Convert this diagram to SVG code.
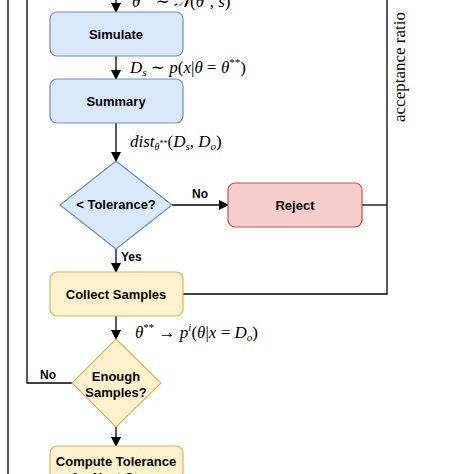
<svg xmlns="http://www.w3.org/2000/svg" width="474" height="474" viewBox="0 0 474 474">
<defs>
<marker id="ah" markerWidth="10" markerHeight="10" refX="9" refY="5" orient="auto" markerUnits="userSpaceOnUse">
<path d="M0,0 L10,5 L0,10 Z" fill="#000"/>
</marker>
<style>
.ln{fill:none;stroke:#000;stroke-width:1.3}
.lbl{font-family:"Liberation Sans",Arial,sans-serif;font-weight:bold;font-size:13px;fill:#000;text-anchor:middle}
.sm{font-family:"Liberation Sans",Arial,sans-serif;font-weight:bold;font-size:12px;fill:#000}
.math{font-family:"Liberation Serif","DejaVu Serif",serif;font-size:17px;fill:#000}
.blue{fill:#dae8fc;stroke:#6c8ebf;stroke-width:1.2}
.red{fill:#f8cecc;stroke:#b85450;stroke-width:1.2}
.yel{fill:#fff2cc;stroke:#d6b656;stroke-width:1.2}
</style>
</defs>
<rect width="474" height="474" fill="#fff"/>
<g id="connectors">
<line class="ln" x1="8" y1="0" x2="8" y2="474"/>
<polyline class="ln" points="72,383 27,383 27,0"/>
<line class="ln" x1="116" y1="0" x2="116" y2="12" marker-end="url(#ah)"/>
<line class="ln" x1="116" y1="56" x2="116" y2="79" marker-end="url(#ah)"/>
<line class="ln" x1="116" y1="123" x2="116" y2="161" marker-end="url(#ah)"/>
<line class="ln" x1="172" y1="205" x2="228" y2="205" marker-end="url(#ah)"/>
<line class="ln" x1="116" y1="249" x2="116" y2="272" marker-end="url(#ah)"/>
<line class="ln" x1="116" y1="316" x2="116" y2="339" marker-end="url(#ah)"/>
<line class="ln" x1="116" y1="427" x2="116" y2="446" marker-end="url(#ah)"/>
<polyline class="ln" points="362,205 387,205"/>
<polyline class="ln" points="183,294 387,294 387,0"/>
<text class="math" x="132" y="7"><tspan font-style="italic">θ</tspan><tspan font-size="11" dy="-7">**</tspan><tspan dy="7"> ∼ </tspan><tspan font-style="italic">𝒩</tspan>(<tspan font-style="italic">θ</tspan><tspan font-size="11" dy="-7">*</tspan><tspan dy="7">, </tspan><tspan font-style="italic">s</tspan>)</text>
<text class="math" x="130" y="73"><tspan font-style="italic">D</tspan><tspan font-style="italic" font-size="11" dy="3">s</tspan><tspan dy="-3"> ∼ </tspan><tspan font-style="italic">p</tspan>(<tspan font-style="italic">x</tspan>|<tspan font-style="italic">θ</tspan> = <tspan font-style="italic">θ</tspan><tspan font-size="11" dy="-7">**</tspan><tspan dy="7">)</tspan></text>
<text class="math" x="130" y="147"><tspan font-style="italic">dist</tspan><tspan font-style="italic" font-size="10" dy="3">θ</tspan><tspan font-size="8" dy="-4">**</tspan><tspan dy="1">(</tspan><tspan font-style="italic">D</tspan><tspan font-style="italic" font-size="11" dy="3">s</tspan><tspan dy="-3">, </tspan><tspan font-style="italic">D</tspan><tspan font-style="italic" font-size="11" dy="3">o</tspan><tspan dy="-3">)</tspan></text>
<text class="math" x="135" y="338"><tspan font-style="italic">θ</tspan><tspan font-size="11" dy="-7">**</tspan><tspan dy="7"> → </tspan><tspan font-style="italic">p</tspan><tspan font-style="italic" font-size="11" dy="-7">i</tspan><tspan dy="7">(</tspan><tspan font-style="italic">θ</tspan>|<tspan font-style="italic">x</tspan> = <tspan font-style="italic">D</tspan><tspan font-style="italic" font-size="11" dy="3">o</tspan><tspan dy="-3">)</tspan></text>
<text class="sm" x="192" y="198">No</text>
<text class="sm" x="121" y="261">Yes</text>
<text class="sm" x="40" y="379">No</text>
<text font-family="'Liberation Serif','DejaVu Serif',serif" font-size="17" text-anchor="middle" transform="translate(405,67) rotate(-90)">acceptance ratio</text>
</g>
<g id="simulate">
<rect class="blue" x="50" y="12" width="133" height="44" rx="7"/>
<text class="lbl" x="116" y="39">Simulate</text>
</g>
<g id="summary">
<rect class="blue" x="50" y="79" width="133" height="44" rx="7"/>
<text class="lbl" x="116" y="106">Summary</text>
</g>
<g id="tolerance">
<polygon class="blue" points="116,161 172,205 116,249 60,205"/>
<text class="lbl" x="116" y="209">&lt; Tolerance?</text>
</g>
<g id="reject">
<rect class="red" x="228" y="183" width="134" height="44" rx="7"/>
<text class="lbl" x="295" y="210">Reject</text>
</g>
<g id="collect">
<rect class="yel" x="50" y="272" width="133" height="44" rx="7"/>
<text class="lbl" x="116" y="299">Collect Samples</text>
</g>
<g id="enough">
<polygon class="yel" points="116,339 161,383 116,427 72,383"/>
<text class="lbl" x="116" y="381">Enough</text>
<text class="lbl" x="116" y="397">Samples?</text>
</g>
<g id="compute">
<rect class="yel" x="50" y="446" width="133" height="44" rx="7"/>
<text class="lbl" x="116" y="466">Compute Tolerance</text>
<text class="lbl" x="116" y="482">for Next Stage</text>
</g>
</svg>
